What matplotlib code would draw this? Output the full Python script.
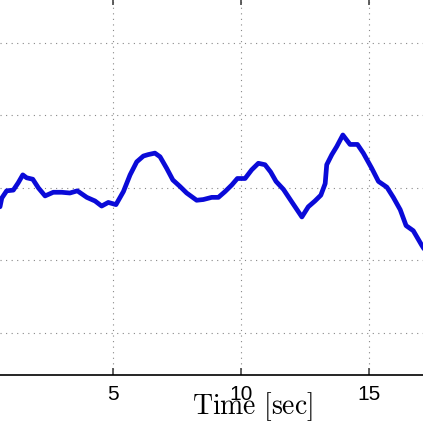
import matplotlib
matplotlib.use('Agg')
import matplotlib.pyplot as plt

# Data (time in seconds, signal in arbitrary units)
time_s = [0.59, 0.66, 0.85, 1.11, 1.30, 1.48, 1.63, 1.87, 2.09, 2.35, 2.67, 3.00,
          3.32, 3.61, 3.98, 4.30, 4.56, 4.82, 5.12, 5.41, 5.67, 5.93, 6.19, 6.38,
          6.64, 6.84, 7.10, 7.34, 7.62, 7.88, 8.27, 8.53, 8.86, 9.12, 9.38, 9.64,
          9.86, 10.16, 10.42, 10.68, 10.94, 11.16, 11.37, 11.66, 11.98, 12.38,
          12.63, 12.89, 13.12, 13.29, 13.35, 13.55, 13.74, 13.98, 14.26, 14.55,
          14.78, 15.11, 15.37, 15.70, 15.95, 16.22, 16.45, 16.73, 17.06, 17.15]
signal = [-0.26, -0.14, -0.04, -0.03, 0.07, 0.18, 0.14, 0.12, 0.00, -0.11, -0.06, -0.06,
          -0.07, -0.04, -0.13, -0.18, -0.25, -0.20, -0.23, -0.05, 0.18, 0.36, 0.44, 0.46,
          0.48, 0.43, 0.27, 0.11, 0.02, -0.07, -0.17, -0.16, -0.13, -0.13, -0.05, 0.04,
          0.13, 0.13, 0.25, 0.34, 0.32, 0.22, 0.09, -0.02, -0.19, -0.40,
          -0.26, -0.18, -0.10, 0.06, 0.32, 0.46, 0.57, 0.73, 0.60, 0.60,
          0.48, 0.27, 0.09, 0.01, -0.13, -0.30, -0.52, -0.59, -0.79, -0.84]

x_ticks = [5, 10, 15]
y_grid = [-2, -1, 0, 1, 2]

plt.rcParams['font.family'] = ['Liberation Sans', 'DejaVu Sans']
plt.rcParams['mathtext.fontset'] = 'cm'

fig = plt.figure(figsize=(4.23, 4.23), dpi=100)
ax = fig.add_axes([0, 0.1135, 1, 0.8913])

ax.plot(time_s, signal, color='#0a0ad8', linewidth=3.4,
        solid_capstyle='round', solid_joinstyle='round')

ax.set_xlim(0.59, 17.11)
ax.set_ylim(-2.58, 2.62)
ax.set_xticks(x_ticks)
ax.set_yticks(y_grid)
ax.set_yticklabels([])
ax.tick_params(axis='y', length=0)
ax.tick_params(axis='x', direction='in', length=5, width=1.2, top=True,
               color='#444444', pad=7, labelsize=15)

ax.grid(True, linestyle=(0, (1, 4)), color='#888888', linewidth=0.8)

for side in ['left', 'right', 'top']:
    ax.spines[side].set_visible(False)
ax.spines['bottom'].set_linewidth(1.2)

fig.text(0.597, 0.022, r'$\mathrm{Time}\ [\mathrm{sec}]$', fontsize=20,
         ha='center', va='baseline')

fig.savefig('out.png', dpi=100)
